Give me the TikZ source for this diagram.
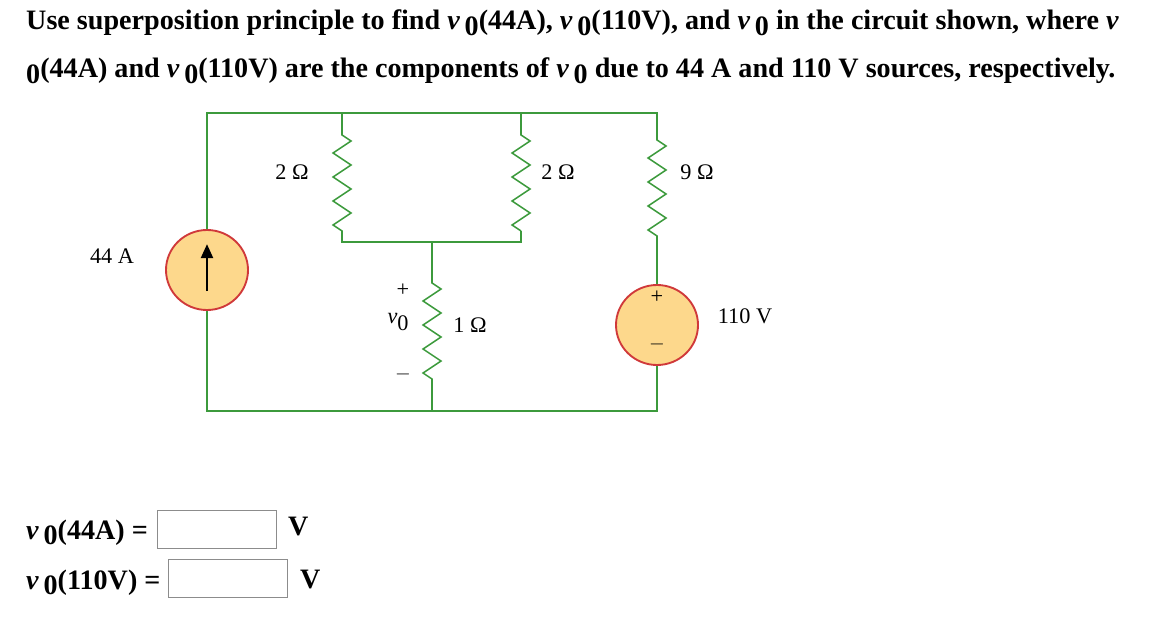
\documentclass[tikz,border=0pt]{standalone}
\usepackage{fontspec}
\setmainfont{Liberation Serif}
\usetikzlibrary{shapes.geometric,arrows.meta}
\definecolor{wire}{HTML}{3C9A3C}
\definecolor{srcfill}{HTML}{FDD88C}
\definecolor{srcedge}{HTML}{D0393A}
\newcommand{\zzres}{-- ++(9,6) -- ++(-18,12) -- ++(18,12) -- ++(-18,12) -- ++(18,12) -- ++(-18,12) -- ++(18,12) -- ++(-18,12) -- ++(9,6)}
\tikzset{
  w/.style={wire, line width=1.3pt, line join=miter},
  src/.style={ellipse, draw=srcedge, fill=srcfill, line width=1.6pt, minimum width=2.46cm, minimum height=2.4cm, inner sep=0pt},
  lbl/.style={font=\fontsize{19}{22}\selectfont, inner sep=0pt},
  hdr/.style={font=\fontsize{24}{28}\bfseries\selectfont, anchor=base west, inner sep=0pt},
  box/.style={draw=black!45, line width=0.6pt, minimum width=3.57cm, minimum height=1.14cm, inner sep=0pt}
}
\begin{document}
\begin{tikzpicture}[x=0.03cm,y=-0.03cm]
\useasboundingbox (0,0) rectangle (1154,620);
% header
\node[hdr] (h1) at (26,30) {Use superposition principle to find \textit{v}\,\raisebox{-5pt}{0}(44A), \textit{v}\,\raisebox{-5pt}{0}(110V), and \textit{v}\,\raisebox{-5pt}{0} in the circuit shown, where \textit{v}};
\node[hdr] (h2) at (26,78) {\raisebox{-5pt}{0}(44A) and \textit{v}\,\raisebox{-5pt}{0}(110V) are the components of \textit{v}\,\raisebox{-5pt}{0} due to 44 A and 110 V sources, respectively.};
% nodes
\coordinate (tl) at (207,113);
\coordinate (tr) at (657,113);
\coordinate (bl) at (207,411);
\coordinate (br) at (657,411);
\coordinate (ta) at (342,113);
\coordinate (tb) at (521,113);
\coordinate (ma) at (342,242);
\coordinate (mb) at (521,242);
\coordinate (mm) at (432,242);
\coordinate (bm) at (432,411);
\coordinate (ra1) at (342,135);
\coordinate (rb1) at (521,135);
\coordinate (rc1) at (657,140);
\coordinate (rm1) at (432,283);
\node[src] (I) at (207,270) {};
\node[src] (V) at (657,325) {};
% wires
\draw[w] (I.north) -- (tl) -- (tr) -- (rc1) \zzres -- (V.north);
\draw[w] (I.south) -- (bl) -- (br) -- (V.south);
\draw[w] (ta) -- (ra1) \zzres -- (ma) -- (mb) -- ++(0,-11) coordinate (rb2);
\draw[w] (tb) -- (rb1) \zzres -- (rb2);
\draw[w] (mm) -- (rm1) \zzres -- (bm);
% arrow in current source
\draw[line width=2.4pt, -{Triangle[length=12pt,width=10pt]}] (207,291) -- (207,244);
\node[lbl] (pv) at (657,297) {+};
\node[lbl] (mv) at (657,344) {$-$};
% labels
\node[lbl] (l1) at (292,172) {2 Ω};
\node[lbl] (l2) at (558,172) {2 Ω};
\node[lbl] (l3) at (697,172) {9 Ω};
\node[lbl] (l4) at (112,256) {44 A};
\node[lbl] (l5) at (745,316) {110 V};
\node[lbl] (l6) at (470,325) {1 Ω};
\node[lbl] (pl) at (403,290) {+};
\node[lbl] (vl) at (398,322) {\textit{v}\raisebox{-6pt}{0}};
\node[lbl] (ml) at (403,374) {$-$};
% answers
\node[hdr] (a1) at (26,539) {\textit{v}\,\raisebox{-5pt}{0}(44A) =};
\node[box, anchor=north west] (b1) at (157,510) {};
\node[hdr] (u1) at (288,535) {V};
\node[hdr] (a2) at (26,589) {\textit{v}\,\raisebox{-5pt}{0}(110V) =};
\node[box, anchor=north west] (b2) at (168,559) {};
\node[hdr] (u2) at (300,588) {V};
\end{tikzpicture}
\end{document}
